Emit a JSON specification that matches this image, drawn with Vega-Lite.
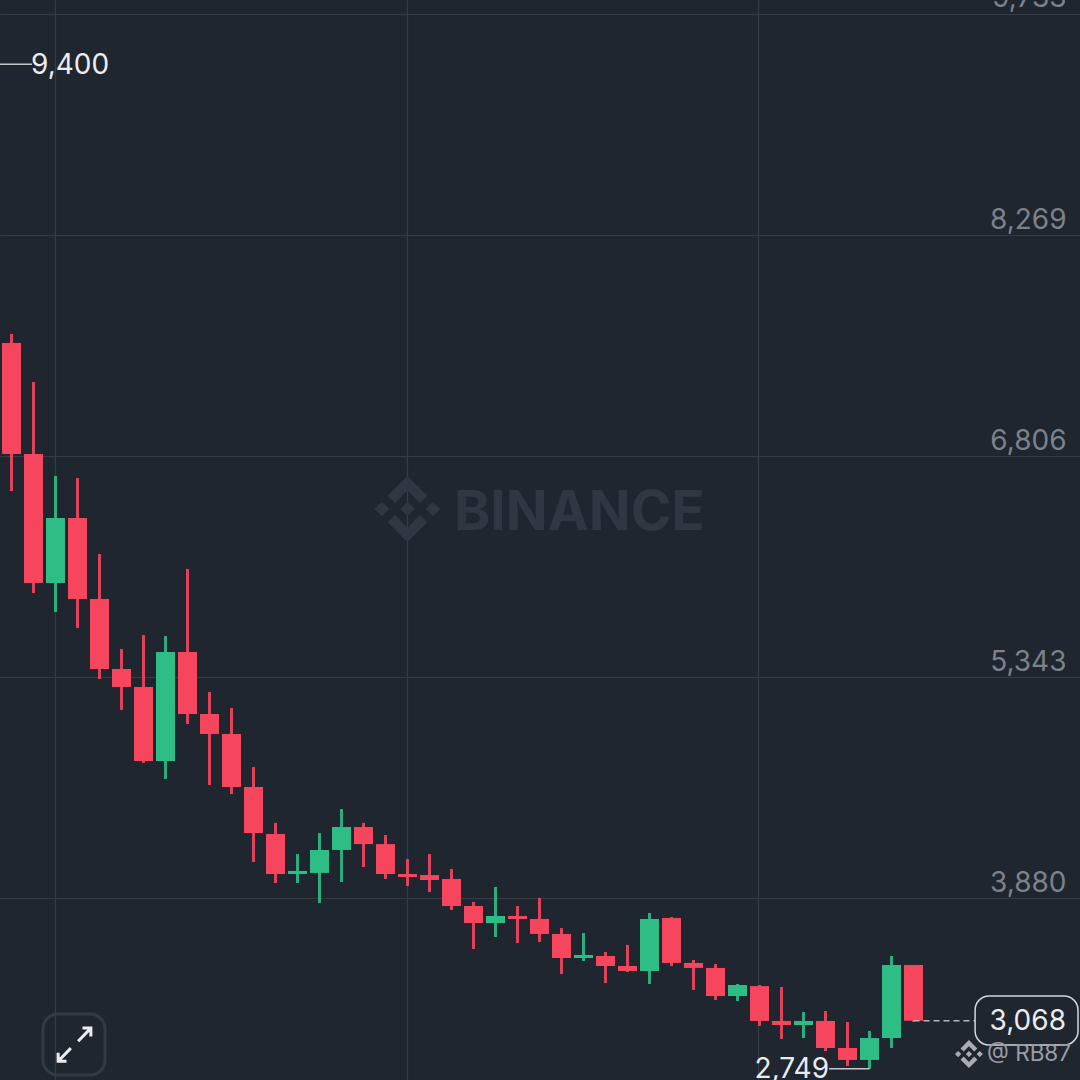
{
  "$schema": "https://vega.github.io/schema/vega-lite/v6.json",
  "width": 1080,
  "height": 1080,
  "padding": 0,
  "autosize": {"type": "none"},
  "background": "#1f2630",
  "config": {"view": {"stroke": null}, "font": "Inter"},
  "datasets": {
    "candles": [
      {"i": 0, "open": 7554, "high": 7614, "low": 6574, "close": 6819, "dir": "down"},
      {"i": 1, "open": 6819, "high": 7296, "low": 5899, "close": 5965, "dir": "down"},
      {"i": 2, "open": 5965, "high": 6674, "low": 5773, "close": 6396, "dir": "up"},
      {"i": 3, "open": 6396, "high": 6660, "low": 5667, "close": 5859, "dir": "down"},
      {"i": 4, "open": 5859, "high": 6157, "low": 5330, "close": 5396, "dir": "down"},
      {"i": 5, "open": 5396, "high": 5528, "low": 5125, "close": 5277, "dir": "down"},
      {"i": 6, "open": 5277, "high": 5621, "low": 4774, "close": 4787, "dir": "down"},
      {"i": 7, "open": 4787, "high": 5614, "low": 4668, "close": 5509, "dir": "up"},
      {"i": 8, "open": 5509, "high": 6058, "low": 5032, "close": 5098, "dir": "down"},
      {"i": 9, "open": 5098, "high": 5244, "low": 4628, "close": 4966, "dir": "down"},
      {"i": 10, "open": 4966, "high": 5138, "low": 4568, "close": 4615, "dir": "down"},
      {"i": 11, "open": 4615, "high": 4747, "low": 4118, "close": 4310, "dir": "down"},
      {"i": 12, "open": 4304, "high": 4377, "low": 3979, "close": 4039, "dir": "down"},
      {"i": 13, "open": 4039, "high": 4171, "low": 3979, "close": 4059, "dir": "up"},
      {"i": 14, "open": 4046, "high": 4310, "low": 3847, "close": 4198, "dir": "up"},
      {"i": 15, "open": 4198, "high": 4469, "low": 3986, "close": 4350, "dir": "up"},
      {"i": 16, "open": 4350, "high": 4377, "low": 4085, "close": 4237, "dir": "down"},
      {"i": 17, "open": 4237, "high": 4297, "low": 4006, "close": 4039, "dir": "down"},
      {"i": 18, "open": 4039, "high": 4138, "low": 3959, "close": 4019, "dir": "down"},
      {"i": 19, "open": 4032, "high": 4171, "low": 3920, "close": 3999, "dir": "down"},
      {"i": 20, "open": 4006, "high": 4072, "low": 3801, "close": 3827, "dir": "down"},
      {"i": 21, "open": 3827, "high": 3854, "low": 3542, "close": 3714, "dir": "down"},
      {"i": 22, "open": 3714, "high": 3953, "low": 3622, "close": 3761, "dir": "up"},
      {"i": 23, "open": 3761, "high": 3827, "low": 3582, "close": 3741, "dir": "down"},
      {"i": 24, "open": 3741, "high": 3880, "low": 3589, "close": 3642, "dir": "down"},
      {"i": 25, "open": 3642, "high": 3681, "low": 3377, "close": 3483, "dir": "down"},
      {"i": 26, "open": 3483, "high": 3648, "low": 3463, "close": 3503, "dir": "up"},
      {"i": 27, "open": 3496, "high": 3523, "low": 3317, "close": 3430, "dir": "down"},
      {"i": 28, "open": 3430, "high": 3569, "low": 3390, "close": 3397, "dir": "down"},
      {"i": 29, "open": 3397, "high": 3781, "low": 3311, "close": 3741, "dir": "up"},
      {"i": 30, "open": 3748, "high": 3754, "low": 3430, "close": 3450, "dir": "down"},
      {"i": 31, "open": 3450, "high": 3470, "low": 3271, "close": 3417, "dir": "down"},
      {"i": 32, "open": 3417, "high": 3443, "low": 3205, "close": 3231, "dir": "down"},
      {"i": 33, "open": 3231, "high": 3311, "low": 3198, "close": 3304, "dir": "up"},
      {"i": 34, "open": 3297, "high": 3304, "low": 3033, "close": 3066, "dir": "down"},
      {"i": 35, "open": 3066, "high": 3291, "low": 2947, "close": 3039, "dir": "down"},
      {"i": 36, "open": 3039, "high": 3125, "low": 2953, "close": 3066, "dir": "up"},
      {"i": 37, "open": 3066, "high": 3132, "low": 2867, "close": 2887, "dir": "down"},
      {"i": 38, "open": 2887, "high": 3059, "low": 2768, "close": 2808, "dir": "down"},
      {"i": 39, "open": 2808, "high": 3000, "low": 2749, "close": 2953, "dir": "up"},
      {"i": 40, "open": 2953, "high": 3496, "low": 2887, "close": 3436, "dir": "up"},
      {"i": 41, "open": 3436, "high": 3436, "low": 3060, "close": 3068, "dir": "down"}
    ]
  },
  "layer": [
    {
      "data": {"name": "candles"},
      "mark": {"type": "rule", "strokeWidth": 3, "opacity": 0.9},
      "encoding": {
        "x": {
          "field": "i",
          "type": "quantitative",
          "scale": {"domain": [-0.5227, 48.568], "nice": false, "zero": false, "padding": 0},
          "axis": {
            "values": [2, 17.97, 33.95],
            "title": null,
            "labels": false,
            "ticks": false,
            "domain": false,
            "grid": true,
            "gridColor": "#363c46",
            "gridWidth": 1.2
          }
        },
        "y": {
          "field": "high",
          "type": "quantitative",
          "scale": {"domain": [2675.2, 9824.7], "nice": false, "zero": false},
          "axis": {
            "orient": "right",
            "values": [3880, 5343, 6806, 8269, 9733],
            "format": ",d",
            "title": null,
            "ticks": false,
            "domain": false,
            "grid": true,
            "gridColor": "#363c46",
            "gridWidth": 1.2,
            "labelAlign": "right",
            "labelPadding": -14,
            "labelOffset": -15,
            "labelFontSize": 28,
            "labelFont": "Inter",
            "labelColor": "#7c818a"
          }
        },
        "y2": {"field": "low"},
        "color": {
          "field": "dir",
          "type": "nominal",
          "legend": null,
          "scale": {"domain": ["up", "down"], "range": ["#2ebd85", "#f6465d"]}
        }
      }
    },
    {
      "data": {"name": "candles"},
      "mark": {"type": "bar", "size": 19},
      "encoding": {
        "x": {"field": "i", "type": "quantitative"},
        "y": {"field": "open", "type": "quantitative", "title": null},
        "y2": {"field": "close"},
        "color": {"field": "dir", "type": "nominal", "legend": null}
      }
    },
    {
      "data": {"values": [{"i": -0.5227, "i2": 0.932, "price": 9400}, {"i": 37.16, "i2": 39, "price": 2749}]},
      "mark": {"type": "rule", "color": "#c4c7cc", "strokeWidth": 1.5},
      "encoding": {
        "x": {"field": "i", "type": "quantitative"},
        "x2": {"field": "i2"},
        "y": {"field": "price", "type": "quantitative", "title": null}
      }
    },
    {
      "data": {"values": [{"i": 41, "i2": 43.8, "price": 3068}]},
      "mark": {"type": "rule", "color": "#b4b7bc", "strokeWidth": 1.5, "strokeDash": [6, 4]},
      "encoding": {
        "x": {"field": "i", "type": "quantitative"},
        "x2": {"field": "i2"},
        "y": {"field": "price", "type": "quantitative", "title": null}
      }
    },
    {
      "data": {"values": [{"i": 43.8, "i2": 48.477, "top": 3231, "bottom": 2907}]},
      "mark": {"type": "rect", "fill": "#1f2630", "stroke": "#d4d6da", "strokeWidth": 1.5, "cornerRadius": 14},
      "encoding": {
        "x": {"field": "i", "type": "quantitative"},
        "x2": {"field": "i2"},
        "y": {"field": "top", "type": "quantitative", "title": null},
        "y2": {"field": "bottom"}
      }
    },
    {
      "data": {"values": [{"i": 1.43, "i2": 4.25, "top": 3112, "bottom": 2708}]},
      "mark": {"type": "rect", "fillOpacity": 0, "stroke": "#323a45", "strokeWidth": 3, "cornerRadius": 15},
      "encoding": {
        "x": {"field": "i", "type": "quantitative"},
        "x2": {"field": "i2"},
        "y": {"field": "top", "type": "quantitative", "title": null},
        "y2": {"field": "bottom"}
      }
    },
    {
      "data": {"values": [{"i": 2.864, "price": 2909}]},
      "mark": {
        "type": "point",
        "filled": false,
        "opacity": 1,
        "stroke": "#eaecef",
        "strokeWidth": 3,
        "size": 1450,
        "shape": "M0.19,-0.18L0.86,-0.87M0.42,-0.87L0.86,-0.87L0.86,-0.43M-0.19,0.18L-0.86,0.87M-0.42,0.87L-0.86,0.87L-0.86,0.43"
      },
      "encoding": {
        "x": {"field": "i", "type": "quantitative"},
        "y": {"field": "price", "type": "quantitative", "title": null}
      }
    },
    {
      "data": {"values": [{"i": 18, "price": 6455}]},
      "mark": {
        "type": "point",
        "filled": true,
        "opacity": 1,
        "fill": "#303742",
        "size": 4356,
        "shape": "M0,-0.22L0.22,0L0,0.22L-0.22,0ZM-0.77,-0.22L-0.55,0L-0.77,0.22L-1,0ZM0.77,-0.22L1,0L0.77,0.22L0.55,0ZM0,-1L0.6,-0.4L0.38,-0.18L0,-0.56L-0.38,-0.18L-0.6,-0.4ZM0,1L0.6,0.4L0.38,0.18L0,0.56L-0.38,0.18L-0.6,0.4Z"
      },
      "encoding": {
        "x": {"field": "i", "type": "quantitative"},
        "y": {"field": "price", "type": "quantitative", "title": null}
      }
    },
    {
      "data": {"values": [{"i": 43.52, "price": 2847}]},
      "mark": {
        "type": "point",
        "filled": true,
        "opacity": 1,
        "fill": "#a9adb3",
        "size": 784,
        "shape": "M0,-0.22L0.22,0L0,0.22L-0.22,0ZM-0.77,-0.22L-0.55,0L-0.77,0.22L-1,0ZM0.77,-0.22L1,0L0.77,0.22L0.55,0ZM0,-1L0.6,-0.4L0.38,-0.18L0,-0.56L-0.38,-0.18L-0.6,-0.4ZM0,1L0.6,0.4L0.38,0.18L0,0.56L-0.38,0.18L-0.6,0.4Z"
      },
      "encoding": {
        "x": {"field": "i", "type": "quantitative"},
        "y": {"field": "price", "type": "quantitative", "title": null}
      }
    },
    {
      "data": {"values": [{"i": 20.11, "price": 6430, "label": "BINANCE"}]},
      "mark": {"type": "text", "align": "left", "baseline": "middle", "font": "Inter", "fontWeight": 700, "fontSize": 55, "color": "#303742"},
      "encoding": {
        "x": {"field": "i", "type": "quantitative"},
        "y": {"field": "price", "type": "quantitative", "title": null},
        "text": {"field": "label"}
      }
    },
    {
      "data": {"values": [{"i": 0.886, "price": 9388, "label": "9,400"}]},
      "mark": {"type": "text", "align": "left", "baseline": "middle", "font": "Inter", "fontSize": 28, "color": "#eaecef"},
      "encoding": {
        "x": {"field": "i", "type": "quantitative"},
        "y": {"field": "price", "type": "quantitative", "title": null},
        "text": {"field": "label"}
      }
    },
    {
      "data": {"values": [{"i": 37.16, "price": 2741, "label": "2,749"}, {"i": 47.93, "price": 3060, "label": "3,068"}]},
      "mark": {"type": "text", "align": "right", "baseline": "middle", "font": "Inter", "fontSize": 28, "color": "#eaecef"},
      "encoding": {
        "x": {"field": "i", "type": "quantitative"},
        "y": {"field": "price", "type": "quantitative", "title": null},
        "text": {"field": "label"}
      }
    },
    {
      "data": {"values": [{"i": 48.16, "price": 2847, "label": "@ RB87"}]},
      "mark": {"type": "text", "align": "right", "baseline": "middle", "font": "Inter", "fontSize": 22.5, "color": "#989ca3"},
      "encoding": {
        "x": {"field": "i", "type": "quantitative"},
        "y": {"field": "price", "type": "quantitative", "title": null},
        "text": {"field": "label"}
      }
    }
  ]
}
